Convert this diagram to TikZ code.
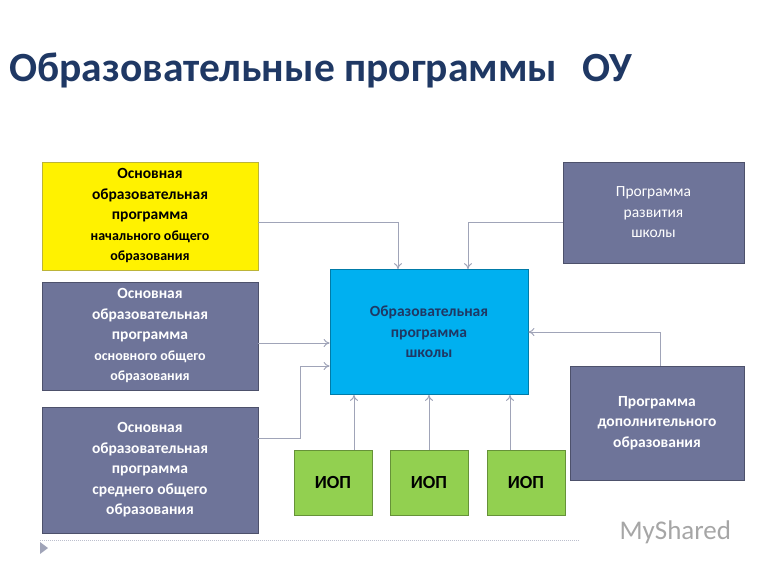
\documentclass[tikz,border=0pt]{standalone}
\usepackage{fontspec}
\setmainfont{Carlito}
\usetikzlibrary{arrows.meta}
\definecolor{slate}{HTML}{6E7499}
\definecolor{cyanb}{HTML}{00B0F0}
\definecolor{greenb}{HTML}{92D050}
\definecolor{navy}{HTML}{1F3864}
\definecolor{conn}{HTML}{A0A4B8}
\tikzset{
 box/.style={draw=#1!70!black, line width=0.8pt, fill=#1, inner sep=0pt, align=center, font=\fontsize{15.5}{20.5}\selectfont\bfseries},
 arr/.style={draw=conn, line width=1pt, -{To[length=6pt,width=8pt]}},
 iop/.style={box=greenb, minimum width=78pt, minimum height=65pt, text=black, font=\fontsize{18.5}{20}\selectfont\bfseries},
}
\newcommand\sm[1]{{\fontsize{14}{20.5}\selectfont #1}}
\begin{document}
\begin{tikzpicture}[x=1pt,y=-1pt]
\useasboundingbox (0,0) rectangle (768,576);
\node[anchor=west, text=navy, font=\fontsize{41.5}{44}\selectfont\bfseries] (title) at (6,70) {Образовательные программы\hspace{0.6em}ОУ};
\node[box=yellow, minimum width=216pt, minimum height=108pt, text=black] (b1) at (150,216) {Основная\\образовательная\\программа\\\sm{начального  общего}\\\sm{образования}};
\node[box=slate, minimum width=216pt, minimum height=108pt, text=white] (b2) at (150,336) {Основная\\образовательная\\программа\\\sm{основного общего}\\\sm{образования}};
\node[box=slate, minimum width=216pt, minimum height=126pt, text=white] (b3) at (150,470) {Основная\\образовательная\\программа\\среднего  общего\\образования};
\node[box=cyanb, minimum width=198pt, minimum height=125pt, text=navy] (c) at (429,332) {Образовательная\\программа\\школы};
\node[box=slate, minimum width=181pt, minimum height=101pt, text=white, font=\fontsize{15.5}{20.5}\selectfont] (r1) at (653.5,212.5) {Программа\\развития\\школы};
\node[box=slate, minimum width=174pt, minimum height=114pt, text=white] (r2) at (657,423) {Программа\\дополнительного\\образования};
\node[iop] (i1) at (333,482.5) {ИОП};
\node[iop] (i2) at (429,482.5) {ИОП};
\node[iop] (i3) at (526,482.5) {ИОП};
\draw[arr] (b1.east |- 0,222) -| (398,0 |- c.north);
\draw[arr] (r1.west |- 0,222) -| (468,0 |- c.north);
\draw[arr] (b2.east |- 0,343) -- (c.west |- 0,343);
\draw[arr] (b3.east |- 0,438) -- (300,438) |- (c.west |- 0,366);
\draw[arr] (r2.north -| 660,0) |- (c.east |- 0,332);
\draw[arr] (i1.north -| 354,0) -- (c.south -| 354,0);
\draw[arr] (i2.north) -- (c.south -| i2.north);
\draw[arr] (i3.north -| 510,0) -- (c.south -| 510,0);
\coordinate (l1) at (40,540);
\coordinate (l2) at (580,540);
\draw[conn!70, dash pattern=on 1pt off 1pt] (l1) -- (l2);
\fill[conn] (40,542) -- (48,548) -- (40,554) -- cycle;
\node[anchor=west, text=gray!70, font=\fontsize{27}{30}\selectfont] (ms) at (616,532) {MyShared};
\end{tikzpicture}
\end{document}
